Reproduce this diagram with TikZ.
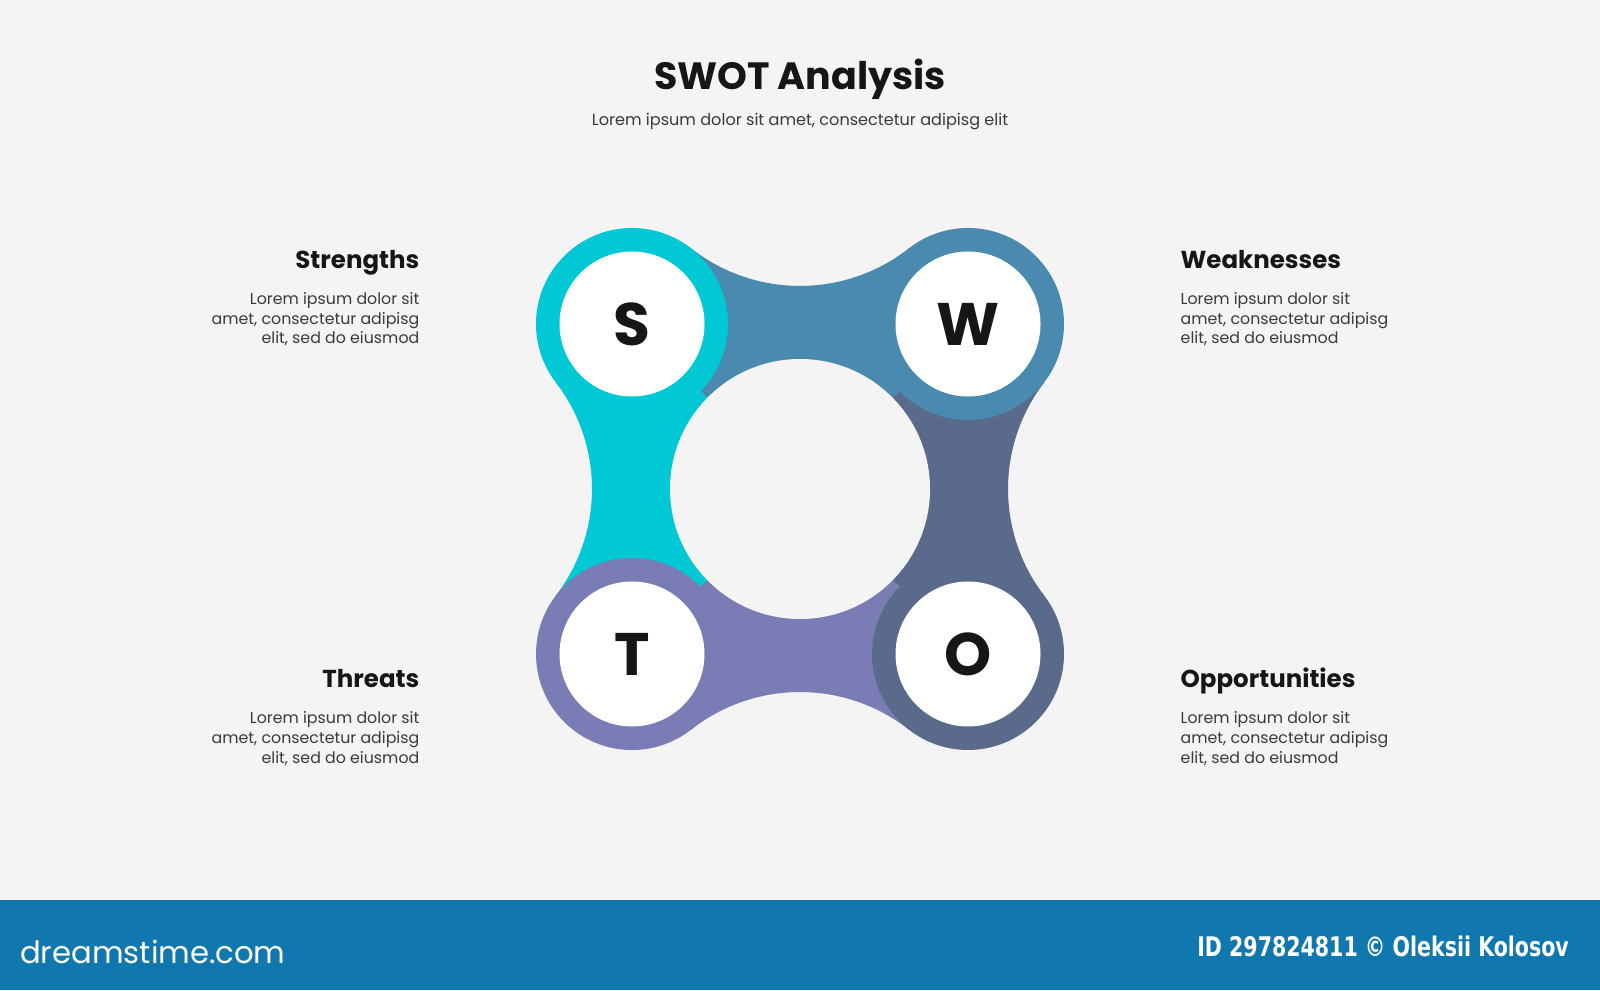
\documentclass[tikz,border=0pt]{standalone}
\usepackage{fontspec}
\setmainfont{Poppins}
\newfontfamily\idfont{DejaVu Sans Condensed}
\definecolor{bg}{RGB}{244,244,244}
\definecolor{cS}{RGB}{0,200,212}
\definecolor{cW}{RGB}{74,138,174}
\definecolor{cO}{RGB}{90,106,139}
\definecolor{cT}{RGB}{122,125,181}
\definecolor{foot}{RGB}{17,119,175}
\definecolor{head}{RGB}{22,22,22}
\definecolor{bodytxt}{RGB}{58,58,58}
\tikzset{
  ring/.style={circle, inner sep=0pt, minimum size=192pt},
  disc/.style={circle, fill=white, inner sep=0pt, minimum size=145pt, text=head,
    font=\fontsize{60}{60}\selectfont\bfseries},
  headtxt/.style={inner sep=0pt, text=head, font=\fontsize{24.5}{28}\selectfont\bfseries},
  bodyR/.style={inner sep=0pt, text=bodytxt, align=right, font=\fontsize{15.8}{19.8}\selectfont},
  bodyL/.style={inner sep=0pt, text=bodytxt, align=left, font=\fontsize{15.8}{19.8}\selectfont},
}
\begin{document}
\begin{tikzpicture}[x=1pt,y=1pt]
\fill[bg] (0,0) rectangle (1600,990);
\useasboundingbox (0,0) rectangle (1600,990);
% centres
\coordinate (C) at (800,501);
\coordinate (S) at (632,666);
\coordinate (W) at (968,666);
\coordinate (T) at (632,336);
\coordinate (O) at (968,336);
% bands
\fill[cW] (S) -- (691.2,741.6) arc[start angle=231.9,end angle=308.1,radius=176.3] -- (W) -- (C) -- cycle;
\fill[cS] (S) -- (555.8,607.6) arc[start angle=37.5,end angle=-37.5,radius=175.1] -- (T) -- (C) -- cycle;
\fill[cT] (T) -- (691.2,260.4) arc[start angle=128.1,end angle=51.9,radius=176.3] -- (O) -- (C) -- cycle;
\fill[cO] (O) -- (1044.2,394.4) arc[start angle=217.5,end angle=142.5,radius=175.1] -- (W) -- (C) -- cycle;
% hole
\fill[bg] (C) circle[radius=130];
% rings
\node[ring, fill=cS] (Sring) at (S) {};
\node[ring, fill=cW] (Wring) at (W) {};
\node[ring, fill=cT] (Tring) at (T) {};
\node[ring, fill=cO] (Oring) at (O) {};
\node[disc] (Sdisc) at (S) {S};
\node[disc] (Wdisc) at (W) {W};
\node[disc] (Tdisc) at (T) {T};
\node[disc] (Odisc) at (O) {O};
% title
\node[inner sep=0pt, anchor=base, text=head, font=\fontsize{38}{42}\selectfont\bfseries] (title) at (800,900) {SWOT Analysis};
\node[inner sep=0pt, anchor=base, text=bodytxt, font=\fontsize{16.1}{18}\selectfont] (subtitle) at (800,864) {Lorem ipsum dolor sit amet, consectetur adipisg elit};
% side texts
\node[headtxt, anchor=base east] (strH) at (419.5,721.7) {Strengths};
\node[bodyR, anchor=base east] (strB) at (419.5,646) {Lorem ipsum dolor sit\\amet, consectetur adipisg\\elit, sed do eiusmod};
\node[headtxt, anchor=base west] (weaH) at (1180.5,721.7) {Weaknesses};
\node[bodyL, anchor=base west] (weaB) at (1180.5,646) {Lorem ipsum dolor sit\\amet, consectetur adipisg\\elit, sed do eiusmod};
\node[headtxt, anchor=base east] (thrH) at (419.5,302.7) {Threats};
\node[bodyR, anchor=base east] (thrB) at (419.5,226.7) {Lorem ipsum dolor sit\\amet, consectetur adipisg\\elit, sed do eiusmod};
\node[headtxt, anchor=base west] (oppH) at (1180.5,302.7) {Opportunities};
\node[bodyL, anchor=base west] (oppB) at (1180.5,226.7) {Lorem ipsum dolor sit\\amet, consectetur adipisg\\elit, sed do eiusmod};
% footer
\fill[foot] (0,0) rectangle (1600,90);
\node[inner sep=0pt, anchor=base west, text=white, font=\fontsize{30.7}{32}\selectfont] (logo) at (20,27) {dreamstime.com};
\node[inner sep=0pt, anchor=base east, text=white, xscale=0.846, transform shape, font=\idfont\bfseries\fontsize{27}{30}\selectfont] (credit) at (1569,34) {ID 297824811 © Oleksii Kolosov};
\end{tikzpicture}
\end{document}
